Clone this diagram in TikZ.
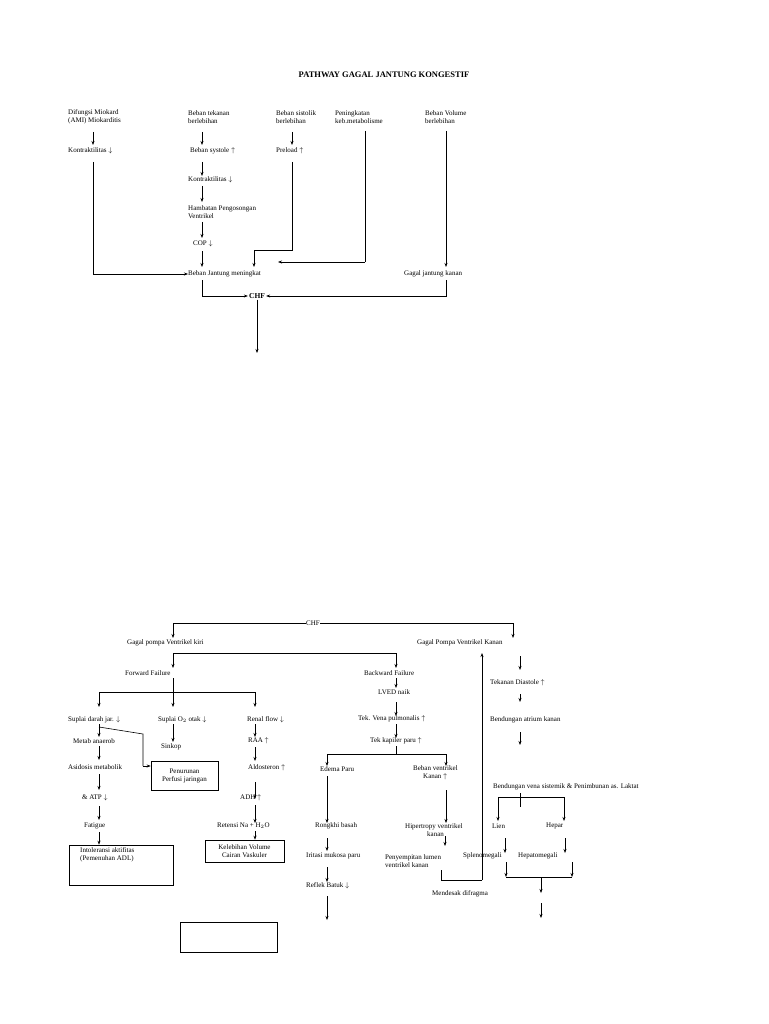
\documentclass[tikz,border=0pt]{standalone}
\usepackage{fontspec}
\setmainfont{Liberation Serif}
\usetikzlibrary{arrows.meta}
\begin{document}
\begin{tikzpicture}[x=1pt,y=-1pt,
  t/.style={anchor=west,inner sep=0pt,font=\fontsize{7}{8}\selectfont,align=left},
  tc/.style={inner sep=0pt,font=\fontsize{7}{8}\selectfont,align=center},
  a/.style={-{Stealth[length=4pt,width=3pt]},line width=0.6pt},
  l/.style={line width=0.6pt},
  bx/.style={draw,line width=0.6pt}]
\useasboundingbox (0,0) rectangle (768,1024);
\node[font=\bfseries\fontsize{8.5}{10}\selectfont] (title) at (384,75) {PATHWAY GAGAL JANTUNG KONGESTIF};
% top section
\node[t] (dm) at (68,117) {Difungsi Miokard\\(AMI) Miokarditis};
\node[t] (k1) at (68,151) {Kontraktilitas $\downarrow$};
\node[t] (bt) at (188,117) {Beban tekanan\\berlebihan};
\node[t] (bs) at (190,151) {Beban systole $\uparrow$};
\node[t] (k2) at (188,180) {Kontraktilitas $\downarrow$};
\node[t] (hp) at (188,212) {Hambatan Pengosongan\\Ventrikel};
\node[t] (cop) at (193,244) {COP $\downarrow$};
\node[t] (bj) at (188,274) {Beban Jantung meningkat};
\node[t] (bsi) at (276,117) {Beban sistolik\\berlebihan};
\node[t] (pre) at (276,151) {Preload $\uparrow$};
\node[t] (pk) at (335,117) {Peningkatan\\keb.metabolisme};
\node[t] (bv) at (425,117) {Beban Volume\\berlebihan};
\node[t] (gjk) at (404,274) {Gagal jantung kanan};
\node[font=\bfseries\fontsize{7.5}{9}\selectfont,inner sep=1pt] (chf1) at (257,296) {CHF};
\coordinate (c1) at (257,353);
\draw[a] (93,132) -- (93,145);
\draw[l] (93,162) -- (93,274); \draw[a] (93,274) -- (bj.west);
\draw[a] (202,132) -- (202,145);
\draw[a] (202,162) -- (202,176);
\draw[a] (202,186) -- (202,202);
\draw[a] (202,222) -- (202,238);
\draw[a] (202,251) -- (202,267);
\draw[a] (292,132) -- (292,145);
\draw[l] (292,162) -- (292,250) -- (254,250); \draw[a] (254,250) -- (254,267);
\draw[l] (365,131) -- (365,262); \draw[a] (365,262) -- (278,262);
\draw[a] (446,131) -- (446,267);
\draw[l] (202,280) -- (202,296) -- (220,296); \draw[a] (220,296) -- (chf1.west);
\draw[l] (446,280) -- (446,296) -- (300,296); \draw[a] (300,296) -- (chf1.east);
\draw[a] (chf1.south) -- (c1);
% bottom section
\node[tc] (chf2) at (313,623) {CHF};
\node[t] (gpk) at (127,643) {Gagal pompa Ventrikel kiri};
\node[t] (gpka) at (417,643) {Gagal Pompa Ventrikel Kanan};
\draw[l] (chf2.west) -- (173,623); \draw[a] (173,623) -- (173,638);
\draw[l] (chf2.east) -- (513,623); \draw[a] (513,623) -- (513,638);
\node[t] (ff) at (125,673) {Forward Failure};
\node[t] (bf) at (364,673) {Backward Failure};
\draw[l] (173,653) -- (396,653);
\draw[a] (173,653) -- (173,668); \draw[a] (396,653) -- (396,668);
\draw[l] (173,678) -- (173,692); \draw[l] (99,692) -- (255,692);
\draw[a] (99,692) -- (99,707); \draw[a] (173,692) -- (173,707); \draw[a] (255,692) -- (255,707);
\node[t] (sd) at (68,720) {Suplai darah jar. $\downarrow$};
\node[t] (so) at (158,720) {Suplai O$_2$ otak $\downarrow$};
\node[t] (rf) at (247,720) {Renal flow $\downarrow$};
\node[t] (ma) at (73,741) {Metab anaerob};
\node[t] (as) at (68,767) {Asidosis metabolik};
\node[t] (atp) at (82,798) {\& ATP $\downarrow$};
\node[t] (fat) at (84,826) {Fatigue};
\node[bx,minimum width=104pt,minimum height=40pt,inner sep=0pt] (ia) at (121,865) {};
\node[t] (iat) at (80,855) {Intoleransi aktifitas\\(Pemenuhan ADL)};
\draw[a] (99,724) -- (99,737); \draw[a] (99,746) -- (99,760);
\draw[a] (99,774) -- (99,790); \draw[a] (99,806) -- (99,820);
\draw[a] (99,832) -- (ia.north -| 99,0);
\node[bx,minimum width=67pt,minimum height=29pt,inner sep=0pt] (pp) at (184.5,775.5) {};
\node[tc] (ppt) at (184.5,775.5) {Penurunan\\Perfusi jaringan};
\draw[l] (99,727) -- (143,734) -- (143,766); \draw[a] (143,766) -- (pp.west |- 0,766);
\node[t] (sk) at (161,747) {Sinkop};
\draw[a] (173,724) -- (173,742);
\node[t] (raa) at (248,741) {RAA $\uparrow$};
\node[t] (ald) at (248,768) {Aldosteron $\uparrow$};
\node[t] (adh) at (240,798) {ADH $\uparrow$};
\node[t] (ret) at (217,826) {Retensi Na + H$_2$O};
\draw[a] (255,724) -- (255,737); \draw[a] (255,747) -- (255,761);
\draw[a] (255,782) -- (255,799); \draw[a] (255,805) -- (255,823);
\node[bx,minimum width=79pt,minimum height=22pt,inner sep=0pt] (kv) at (244.5,851) {};
\node[tc] (kvt) at (244.5,851) {Kelebihan Volume\\Cairan Vaskuler};
\draw[a] (255,831) -- (kv.north -| 255,0);
\node[bx,minimum width=97pt,minimum height=30pt] (eb) at (228.5,937) {};
% backward
\node[t] (lv) at (378,692) {LVED naik};
\node[t] (tvp) at (358,719) {Tek. Vena pulmonalis $\uparrow$};
\node[t] (tkp) at (370,741) {Tek kapiler paru $\uparrow$};
\draw[a] (396,678) -- (396,688); \draw[a] (396,702) -- (396,716); \draw[a] (396,724) -- (396,738);
\draw[l] (396,746) -- (396,754); \draw[l] (327,754) -- (446,754);
\draw[a] (327,754) -- (327,766); \draw[a] (446,754) -- (446,766);
\node[t] (ep) at (320,769) {Edema Paru};
\node[t] (bvk) at (413,773) {Beban ventrikel\\\hspace*{10pt}Kanan $\uparrow$};
\node[t] (rb) at (315,826) {Rongkhi basah};
\node[t] (im) at (306,856) {Iritasi mukosa paru};
\node[t] (rbt) at (306,886) {Reflek Batuk $\downarrow$};
\coordinate (c2) at (327,920);
\draw[a] (327,776) -- (327,823); \draw[a] (327,838) -- (327,851);
\draw[a] (327,867) -- (327,882); \draw[a] (327,896) -- (c2);
\node[t] (hv) at (405,830) {Hipertropy ventrikel\\\hspace*{22pt}kanan};
\node[t] (pl) at (385,861) {Penyempitan lumen\\ventrikel kanan};
\draw[a] (446,790) -- (446,823); \draw[a] (445,836) -- (445,846);
\draw[l] (441,870) -- (441,880) -- (482,880); \draw[a] (482,880) -- (482,653);
\node[t] (spl) at (463,856) {Splenomegali};
\node[t] (md) at (432,894) {Mendesak difragma};
% right
\node[t] (td) at (490,683) {Tekanan Diastole $\uparrow$};
\node[t] (ba) at (490,720) {Bendungan atrium kanan};
\node[t] (bvs) at (493,787) {Bendungan vena sistemik \& Penimbunan as. Laktat};
\draw[a] (520,656) -- (520,670); \draw[a] (520,694) -- (520,702); \draw[a] (520,732) -- (520,745);
\draw[l] (520,793) -- (520,807); \draw[l] (498,797) -- (564,797);
\draw[a] (498,797) -- (498,821); \draw[a] (564,797) -- (564,821);
\node[t] (li) at (492,826) {Lien};
\node[t] (he) at (546,826) {Hepar};
\node[t] (hm) at (518,856) {Hepatomegali};
\draw[a] (505,838) -- (505,853); \draw[a] (565,838) -- (565,853);
\draw[a] (506,862) -- (506,877); \draw[a] (572,862) -- (572,877);
\draw[l] (506,877) -- (572,877);
\coordinate (c3) at (541,918);
\draw[a] (541,877) -- (541,893); \draw[a] (541,903) -- (c3);
\end{tikzpicture}
\end{document}
